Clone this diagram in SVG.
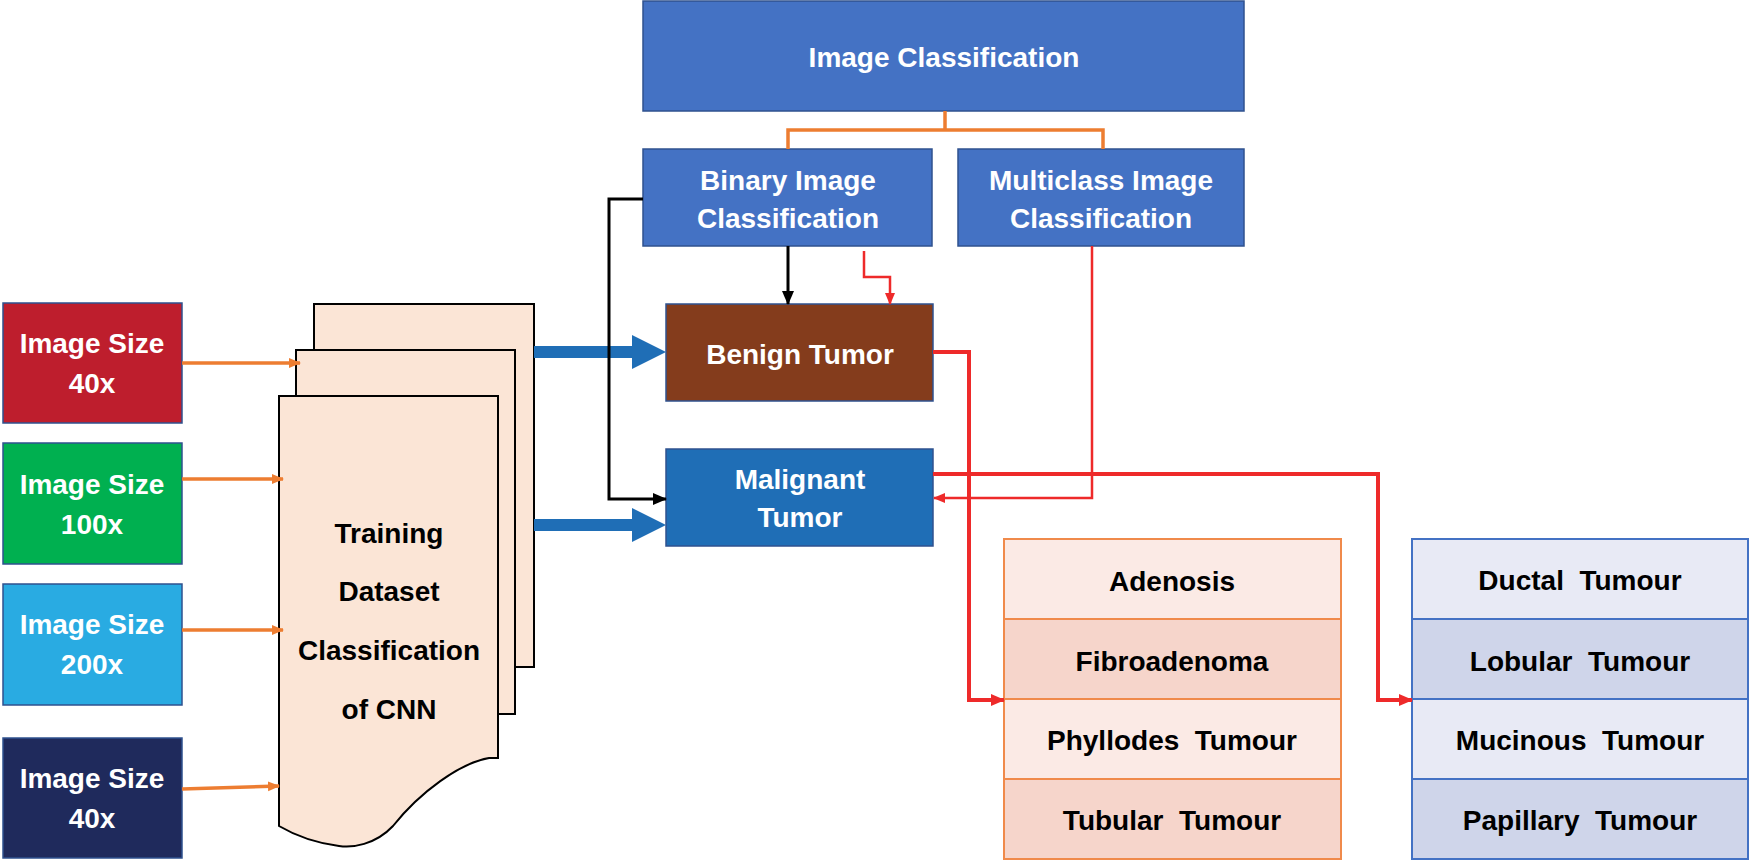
<svg xmlns="http://www.w3.org/2000/svg" width="1750" height="861" viewBox="0 0 1750 861">
<defs>
<style>
text{font-family:"Liberation Sans",Arial,sans-serif;font-weight:bold;font-size:28px;text-anchor:middle;white-space:pre}
.w{fill:#fff}
.k{fill:#000}
.box{stroke:#2F528F;stroke-width:1.5}
.doc{fill:#FBE5D6;stroke:#000;stroke-width:2}
.org{fill:none;stroke:#ED7D31;stroke-width:3.5}
.blk{fill:none;stroke:#000;stroke-width:3}
.rth{fill:none;stroke:#EE2A2A;stroke-width:4}
.rtn{fill:none;stroke:#EE2A2A;stroke-width:2.5}
.bl{fill:none;stroke:#1F6EB6;stroke-width:12}
.tb1{fill:#FBEAE5;stroke:#F08A4B;stroke-width:2}
.tb2{fill:#F6D5CB;stroke:#F08A4B;stroke-width:2}
.tc1{fill:#E8EAF5;stroke:#4472C4;stroke-width:2}
.tc2{fill:#CFD5EA;stroke:#4472C4;stroke-width:2}
</style>
<marker id="ao" markerUnits="userSpaceOnUse" markerWidth="12" markerHeight="12" refX="11" refY="6" orient="auto"><path d="M0,1 L12,6 L0,11 Z" fill="#ED7D31"/></marker>
<marker id="ak" markerUnits="userSpaceOnUse" markerWidth="14" markerHeight="14" refX="13" refY="7" orient="auto"><path d="M0,1 L14,7 L0,13 Z" fill="#000"/></marker>
<marker id="ar" markerUnits="userSpaceOnUse" markerWidth="14" markerHeight="14" refX="13" refY="7" orient="auto"><path d="M0,1 L14,7 L0,13 Z" fill="#EE2A2A"/></marker>
<marker id="ars" markerUnits="userSpaceOnUse" markerWidth="12" markerHeight="12" refX="11" refY="6" orient="auto"><path d="M0,1 L12,6 L0,11 Z" fill="#EE2A2A"/></marker>
</defs>

<g id="size40a"><rect class="box" x="3" y="303" width="179" height="120" fill="#BE1E2D"/><text class="w" x="92" y="353">Image Size</text><text class="w" x="92" y="393">40x</text></g>
<g id="size100"><rect class="box" x="3" y="443" width="179" height="121" fill="#00B050"/><text class="w" x="92" y="494">Image Size</text><text class="w" x="92" y="534">100x</text></g>
<g id="size200"><rect class="box" x="3" y="584" width="179" height="121" fill="#29ABE2"/><text class="w" x="92" y="634">Image Size</text><text class="w" x="92" y="674">200x</text></g>
<g id="size40b"><rect class="box" x="3" y="738" width="179" height="120" fill="#1F2A5C"/><text class="w" x="92" y="788">Image Size</text><text class="w" x="92" y="828">40x</text></g>

<g id="training">
<rect class="doc" x="314" y="304" width="220" height="363"/>
<rect class="doc" x="296" y="350" width="219" height="364"/>
<path class="doc" d="M279,396 H498 V758 H489 C460,763 420,792 393,826 C375,845 352,848 339,846 C316,843 296,836 279,826 Z"/>
<text class="k" x="389" y="543">Training</text>
<text class="k" x="389" y="601">Dataset</text>
<text class="k" x="389" y="660">Classification</text>
<text class="k" x="389" y="719">of CNN</text>
</g>

<g id="imgclass"><rect class="box" x="643" y="1" width="601" height="110" fill="#4472C4"/><text class="w" x="944" y="67">Image Classification</text></g>
<g id="binary"><rect class="box" x="643" y="149" width="289" height="97" fill="#4472C4"/><text class="w" x="788" y="190">Binary Image</text><text class="w" x="788" y="228">Classification</text></g>
<g id="multi"><rect class="box" x="958" y="149" width="286" height="97" fill="#4472C4"/><text class="w" x="1101" y="190">Multiclass Image</text><text class="w" x="1101" y="228">Classification</text></g>
<g id="benign"><rect class="box" x="666" y="304" width="267" height="97" fill="#843C1C"/><text class="w" x="800" y="364">Benign Tumor</text></g>
<g id="malignant"><rect class="box" x="666" y="449" width="267" height="97" fill="#1F6EB6"/><text class="w" x="800" y="489">Malignant</text><text class="w" x="800" y="527">Tumor</text></g>

<g id="benign-types">
<rect class="tb1" x="1004" y="539" width="337" height="80"/>
<rect class="tb2" x="1004" y="619" width="337" height="80"/>
<rect class="tb1" x="1004" y="699" width="337" height="80"/>
<rect class="tb2" x="1004" y="779" width="337" height="80"/>
<text class="k" x="1172" y="591">Adenosis</text>
<text class="k" x="1172" y="671">Fibroadenoma</text>
<text class="k" x="1172" y="750">Phyllodes  Tumour</text>
<text class="k" x="1172" y="830">Tubular  Tumour</text>
</g>
<g id="malignant-types">
<rect class="tc1" x="1412" y="539" width="336" height="80"/>
<rect class="tc2" x="1412" y="619" width="336" height="80"/>
<rect class="tc1" x="1412" y="699" width="336" height="80"/>
<rect class="tc2" x="1412" y="779" width="336" height="80"/>
<text class="k" x="1580" y="590">Ductal  Tumour</text>
<text class="k" x="1580" y="671">Lobular  Tumour</text>
<text class="k" x="1580" y="750">Mucinous  Tumour</text>
<text class="k" x="1580" y="830">Papillary  Tumour</text>
</g>

<g id="connectors">
<path class="org" d="M182,363 H300" marker-end="url(#ao)"/>
<path class="org" d="M182,479 H283" marker-end="url(#ao)"/>
<path class="org" d="M182,630 H283" marker-end="url(#ao)"/>
<path class="org" d="M182,789 L279,786" marker-end="url(#ao)"/>
<path class="org" d="M945,111 V130 M788,149 V130 H1103 V149"/>
<path class="bl" d="M534,352 H634"/>
<path d="M632,335 L666,352 L632,369 Z" fill="#1F6EB6"/>
<path class="bl" d="M534,525 H634"/>
<path d="M632,508 L666,525 L632,542 Z" fill="#1F6EB6"/>
<path class="blk" d="M643,199 H609 V499 H666" marker-end="url(#ak)"/>
<path class="blk" d="M788,246 V304" marker-end="url(#ak)"/>
<path class="rtn" d="M864,251 V277 H890 V304" marker-end="url(#ars)"/>
<path class="rtn" d="M1092,246 V498 H934" marker-end="url(#ars)"/>
<path class="rth" d="M933,352 H969 V700 H1004" marker-end="url(#ar)"/>
<path class="rth" d="M933,474 H1378 V700 H1412" marker-end="url(#ar)"/>
</g>
</svg>
